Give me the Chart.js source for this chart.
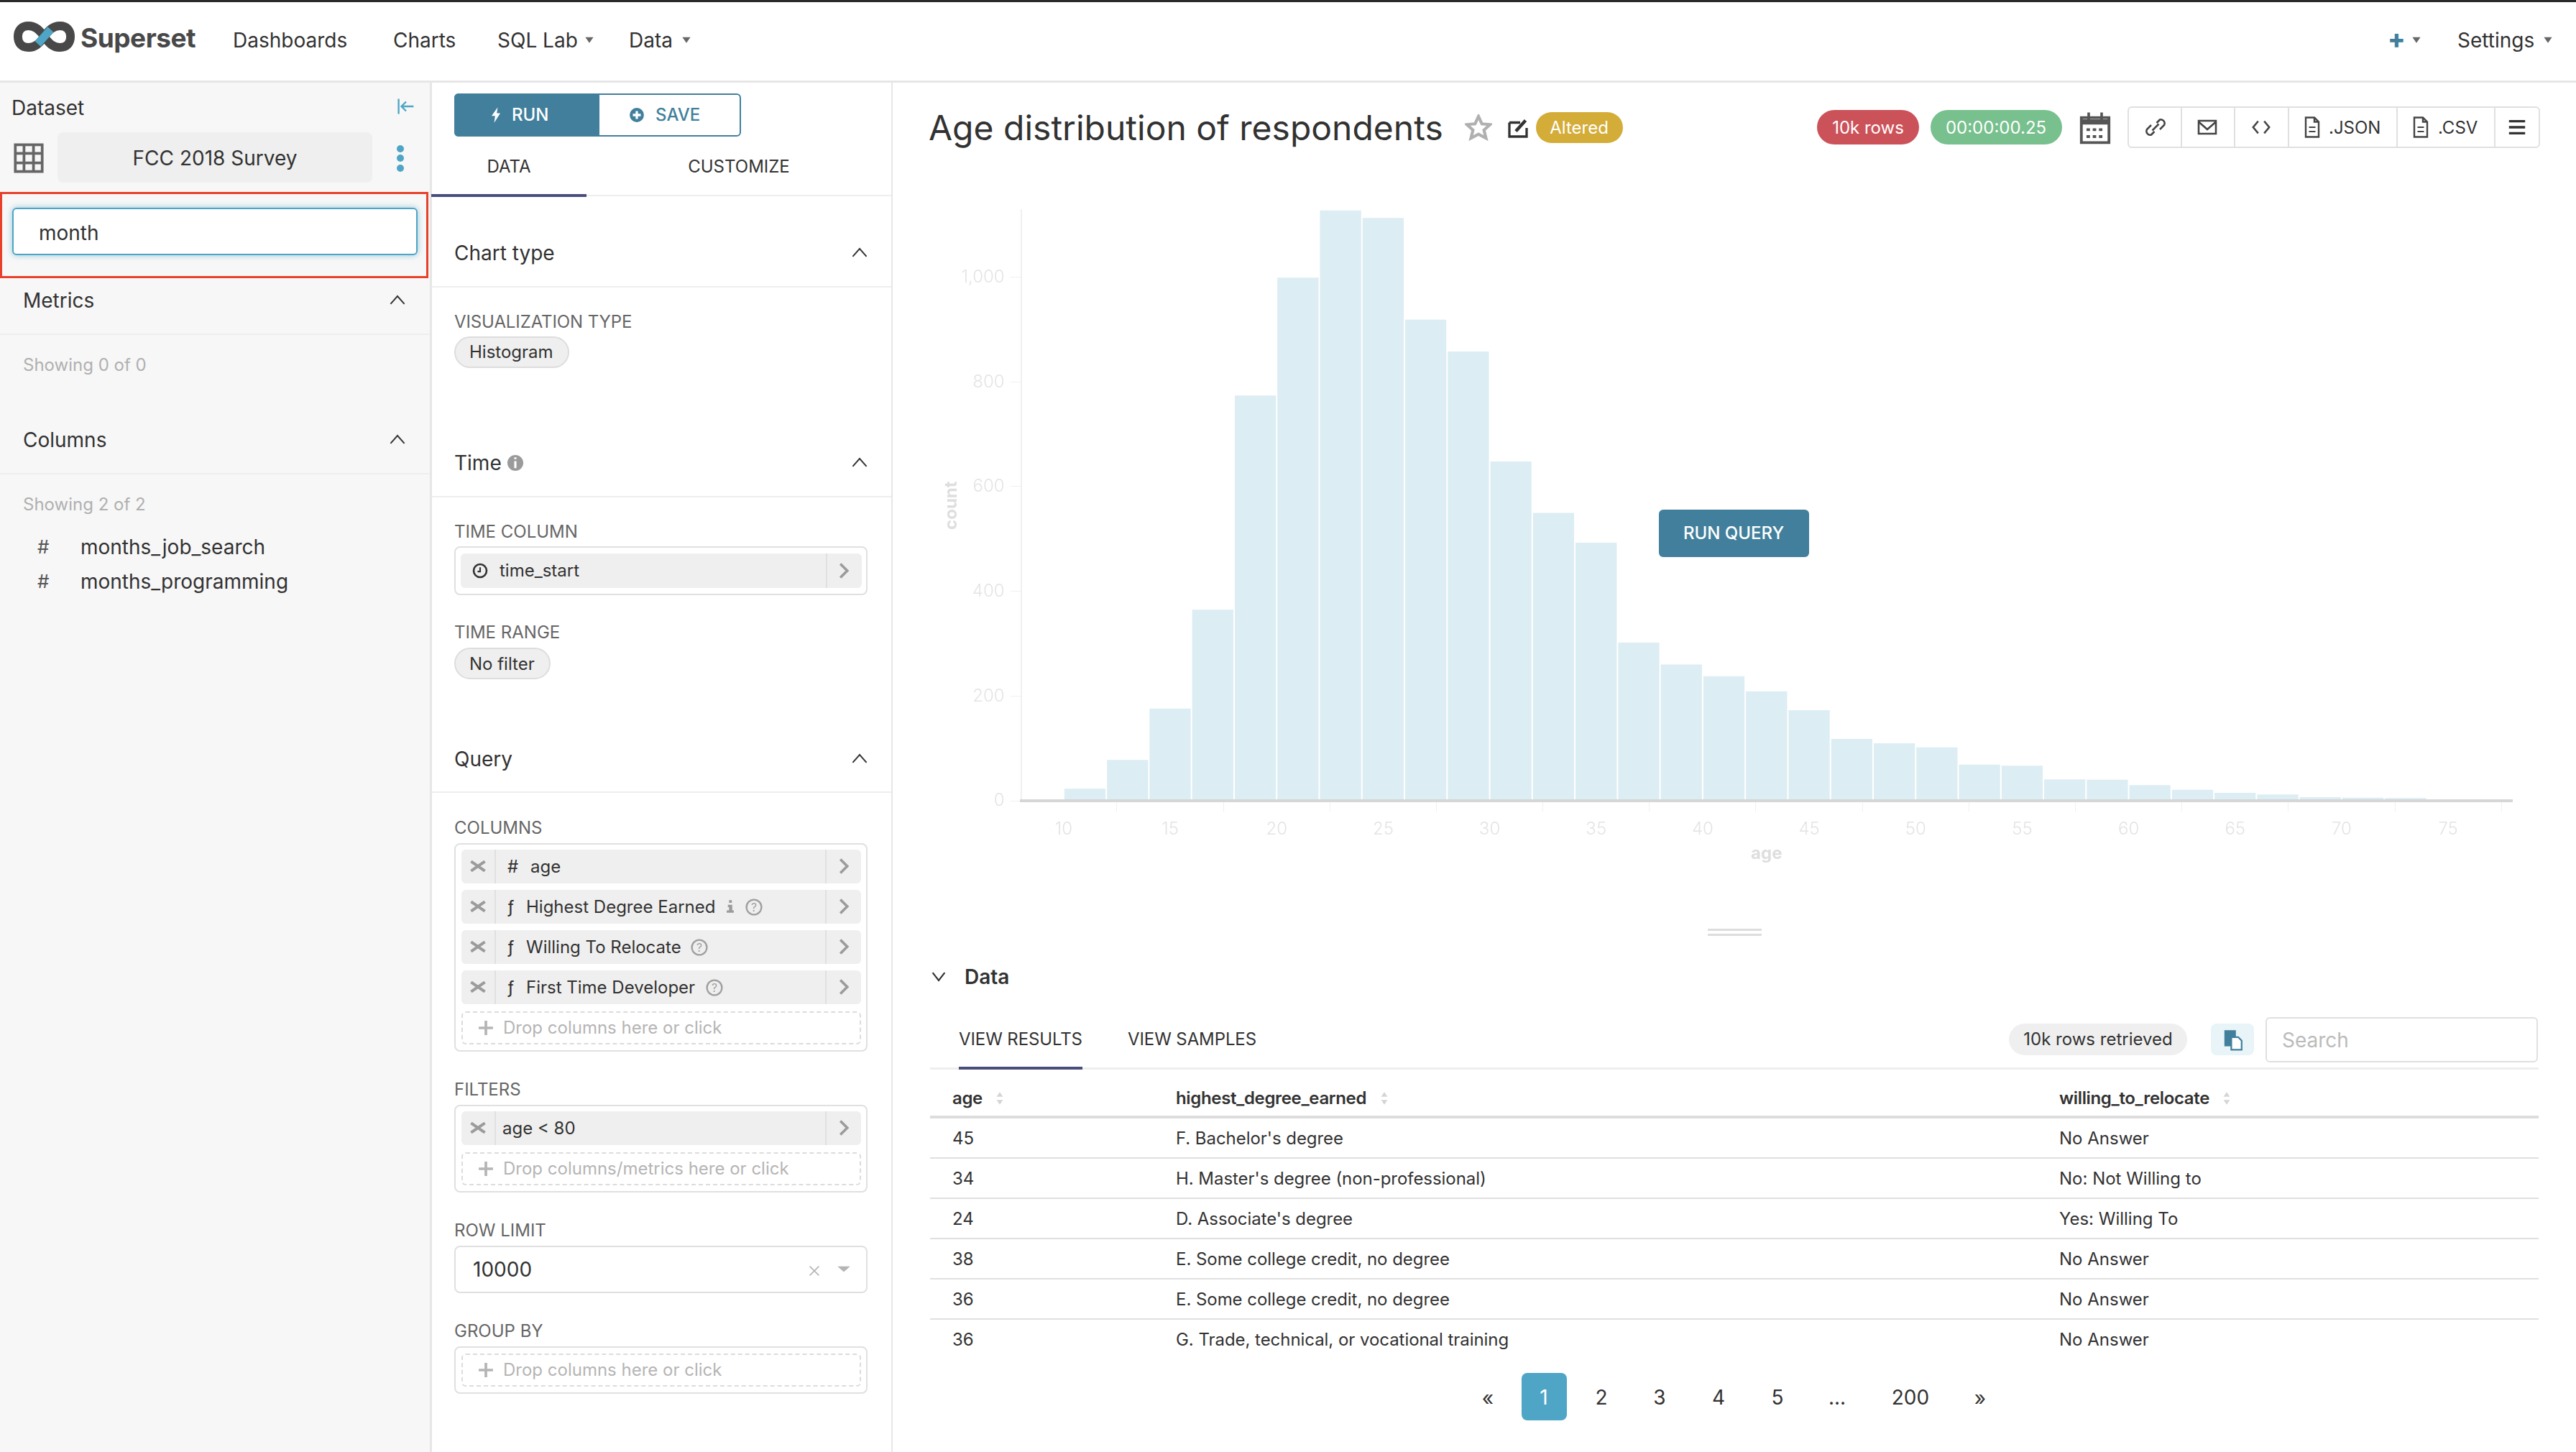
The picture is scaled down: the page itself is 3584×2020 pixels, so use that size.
<!DOCTYPE html>
<html>
<head>
<meta charset="utf-8">
<title>Age distribution of respondents</title>
<script src="https://cdn.jsdelivr.net/npm/chart.js@4"></script>
<style>
  html, body { margin: 0; padding: 0; background: #fff; }
  #page { position: relative; width: 3584px; height: 2020px; overflow: hidden; font-family: Inter, "Noto Sans", sans-serif; }
  #page div, #page svg { position: absolute; box-sizing: border-box; }
  .t { white-space: nowrap; line-height: 1; transform: translateY(-50%); }
  .c { transform: translate(-50%, -50%); }
  #histogram { position: absolute; left: 1309px; top: 270px; }
</style>
</head>
<body>
<div id="page"><canvas id="histogram" width="2196" height="932"></canvas></div>
<script>
// chart data
const binStarts = [8, 10, 12, 14, 16, 18, 20, 22, 24, 26, 28, 30, 32, 34, 36, 38, 40, 42, 44, 46, 48, 50, 52, 54, 56, 58, 60, 62, 64, 66, 68, 70, 72, 74, 76];
const counts = [0, 23, 78, 176, 365, 774, 999, 1128, 1113, 919, 858, 648, 550, 493, 302, 260, 238, 209, 173, 118, 110, 102, 69, 67, 41, 40, 30, 21, 15, 12, 7, 6, 5, 1, 0];
const xTicks = [10, 15, 20, 25, 30, 35, 40, 45, 50, 55, 60, 65, 70, 75];
const yTicks = [0, 200, 400, 600, 800, 1000];

// table contents
const ages = ['45', '34', '24', '38', '36', '36'];
const degrees = ["F. Bachelor's degree", "H. Master's degree (non-professional)", "D. Associate's degree", 'E. Some college credit, no degree', 'E. Some college credit, no degree', 'G. Trade, technical, or vocational training'];
const relocate = ['No Answer', 'No: Not Willing to', 'Yes: Willing To', 'No Answer', 'No Answer', 'No Answer'];

const page = document.getElementById('page');
const BLUE = '#417f9c', LIGHT = '#4ea5c5', INK = '#323232';

function box(x, y, w, h, css) {
  const d = document.createElement('div');
  d.style.cssText = `left:${x}px;top:${y}px;width:${w}px;height:${h}px;${css}`;
  page.appendChild(d);
}
function txt(x, y, s, size, color, css) {
  const d = document.createElement('div');
  d.className = 't';
  d.textContent = s;
  d.style.cssText = `left:${x}px;top:${y}px;font-size:${size}px;color:${color};${css || ''}`;
  page.appendChild(d);
}
function mid(x, y, s, size, color, css) {
  const d = document.createElement('div');
  d.className = 't c';
  d.textContent = s;
  d.style.cssText = `left:${x}px;top:${y}px;font-size:${size}px;color:${color};${css || ''}`;
  page.appendChild(d);
}
// centred svg icon, viewBox is -10..10
function icon(x, y, size, inner) {
  const wrap = document.createElement('div');
  wrap.style.cssText = `left:${x - size / 2}px;top:${y - size / 2}px;width:${size}px;height:${size}px;`;
  wrap.innerHTML = `<svg width="${size}" height="${size}" viewBox="-10 -10 20 20" style="left:0;top:0">${inner}</svg>`;
  page.appendChild(wrap);
}
const chevUp = '<polyline points="-8,4 0,-5 8,4" fill="none" stroke="#323232" stroke-width="1.6"/>';
const chevRight = '<polyline points="-4,-8 4,0 -4,8" fill="none" stroke="#9b9b9b" stroke-width="3"/>';
const cross = '<path d="M-8,-5.5 L8,5.5 M8,-5.5 L-8,5.5" stroke="#9b9b9b" stroke-width="3.4"/>';
const plus = '<path d="M-9,0 H9 M0,-9 V9" stroke="#b5b5b5" stroke-width="3.4"/>';
const caret = '<path d="M-7,-4 H7 L0,6 Z" fill="#666"/>';
const help = '<circle r="8" fill="none" stroke="#a0a0a0" stroke-width="1.8"/><text y="4.5" text-anchor="middle" font-size="12" fill="#a0a0a0" font-family="Inter">?</text>';

// navbar
box(0, 0, 3584, 3, 'background:#2a2a2a');
box(0, 112, 3584, 3, 'background:#e6e6e6');
const logo = document.createElement('div');
logo.style.cssText = 'left:18px;top:28px;width:87px;height:46px';
logo.innerHTML = '<svg width="87" height="46" viewBox="0 0 88 46" preserveAspectRatio="none" style="left:0;top:0"><path d="M44 23 C37 13 31 8 22 8 C12 8 7 14 7 23 C7 32 12 38 22 38 C31 38 37 33 44 23 C51 13 57 8 66 8 C76 8 81 14 81 23 C81 32 76 38 66 38 C57 38 51 33 44 23" fill="none" stroke="#484848" stroke-width="12"/><path d="M35 33 L44 23 L53 13" fill="none" stroke="#4ea5c5" stroke-width="11"/></svg>';
page.appendChild(logo);
txt(112, 52, 'Superset', 37, '#484848', 'font-weight:700;letter-spacing:-0.5px');
txt(324, 56, 'Dashboards', 28, INK);
txt(547, 56, 'Charts', 28, INK);
txt(692, 56, 'SQL Lab', 28, INK);
icon(820, 55, 16, caret);
txt(875, 56, 'Data', 28, INK);
icon(955, 55, 16, caret);
txt(3322, 54, '+', 36, BLUE, 'font-weight:800');
icon(3362, 55, 16, caret);
txt(3419, 56, 'Settings', 28, INK);
icon(3545, 55, 16, caret);

// left panel
box(0, 115, 598, 1905, 'background:#f7f7f7');
box(598, 115, 3, 1905, 'background:#e6e6e6');
txt(16, 150, 'Dataset', 28, INK);
icon(565, 148, 26, '<path d="M-8,-8 V8 M8,0 H-4 M0,-5 L-5,0 L0,5" fill="none" stroke="#4ea5c5" stroke-width="1.8"/>');
icon(40, 220, 44, '<path d="M-8.5,-8.5 H8.5 V8.5 H-8.5 Z M-8.5,-3 H8.5 M-8.5,3 H8.5 M-3,-8.5 V8.5 M3,-8.5 V8.5" fill="none" stroke="#666" stroke-width="1.7"/>');
box(80, 184, 438, 70, 'background:#efefef;border-radius:8px');
mid(299, 220, 'FCC 2018 Survey', 28, INK);
box(552, 202, 10, 10, 'background:#4ea5c5;border-radius:50%');
box(552, 215, 10, 10, 'background:#4ea5c5;border-radius:50%');
box(552, 229, 10, 10, 'background:#4ea5c5;border-radius:50%');
box(0, 267, 596, 120, 'border:3px solid #e8412a;background:#f7f7f7');
box(17, 289, 564, 66, 'background:#fff;border:2px solid #4ea5c5;border-radius:6px;box-shadow:0 0 8px rgba(78,165,197,.6)');
txt(54, 324, 'month', 28, INK);
txt(32, 418, 'Metrics', 28, INK);
icon(553, 418, 24, chevUp);
box(0, 464, 598, 2, 'background:#eeeeee');
txt(32, 508, 'Showing 0 of 0', 24, '#b0b0b0');
txt(32, 612, 'Columns', 28, INK);
icon(553, 612, 24, chevUp);
box(0, 658, 598, 2, 'background:#eeeeee');
txt(32, 702, 'Showing 2 of 2', 24, '#b0b0b0');
txt(52, 761, '#', 26, '#555');
txt(112, 761, 'months_job_search', 28, INK);
txt(52, 809, '#', 26, '#555');
txt(112, 809, 'months_programming', 28, INK);

// middle panel
box(632, 130, 399, 60, `border:2px solid ${BLUE};border-radius:6px;background:#fff`);
box(632, 130, 202, 60, `background:${BLUE};border-radius:6px 0 0 6px`);
icon(690, 160, 24, '<path d="M2,-9 L-5,1 H-1 L-2,9 L5,-2 H1 Z" fill="#fff"/>');
txt(712, 160, 'RUN', 24, '#fff', 'font-weight:500');
icon(886, 160, 22, `<circle r="9" fill="${BLUE}"/><path d="M-5,0 H5 M0,-5 V5" stroke="#fff" stroke-width="3"/>`);
txt(912, 160, 'SAVE', 24, BLUE, 'font-weight:500');
mid(708, 232, 'DATA', 24, INK);
mid(1028, 232, 'CUSTOMIZE', 24, INK);
box(600, 271, 640, 2, 'background:#eeeeee');
box(600, 270, 216, 4, 'background:#484e7c');

txt(632, 352, 'Chart type', 28, INK);
icon(1196, 352, 24, chevUp);
box(600, 398, 640, 2, 'background:#eeeeee');
txt(632, 448, 'VISUALIZATION TYPE', 24, '#666', 'letter-spacing:-0.1px');
box(632, 468, 160, 44, 'background:#efefef;border:2px solid #dddddd;border-radius:22px');
txt(653, 490, 'Histogram', 24, INK);

txt(632, 644, 'Time', 28, INK);
icon(717, 644, 26, '<circle r="8.5" fill="#9b9b9b"/><path d="M0,-2 V5.5 M0,-6 V-4" stroke="#fff" stroke-width="2.4"/>');
icon(1196, 644, 24, chevUp);
box(600, 690, 640, 2, 'background:#eeeeee');
txt(632, 740, 'TIME COLUMN', 24, '#666');
box(632, 760, 575, 68, 'border:2px solid #e0e0e0;border-radius:8px');
box(641, 770, 558, 48, 'background:#efefef;border-radius:6px');
box(1149, 770, 2, 48, 'background:#e0e0e0');
icon(668, 794, 24, '<circle r="7.5" fill="none" stroke="#323232" stroke-width="2.2"/><path d="M0,-4 V1 H-3" fill="none" stroke="#323232" stroke-width="1.8"/>');
txt(695, 794, 'time_start', 24, INK);
icon(1174, 794, 24, chevRight);
txt(632, 880, 'TIME RANGE', 24, '#666');
box(632, 901, 134, 44, 'background:#efefef;border:2px solid #dddddd;border-radius:22px');
txt(653, 924, 'No filter', 24, INK);

txt(632, 1056, 'Query', 28, INK);
icon(1196, 1056, 24, chevUp);
box(600, 1101, 640, 2, 'background:#eeeeee');

function pillRow(y, symbol, symbolX, label, labelX) {
  box(642, y, 556, 47, 'background:#efefef;border-radius:6px');
  box(688, y, 2, 47, 'background:#e0e0e0');
  box(1148, y, 2, 47, 'background:#e0e0e0');
  icon(665, y + 23, 24, cross);
  if (symbol) txt(symbolX, y + 24, symbol, 24, INK);
  txt(labelX, y + 24, label, 24, INK);
  icon(1174, y + 23, 24, chevRight);
}
function dropRow(y, label) {
  box(642, y, 556, 46, 'border:2px dashed #dcdcdc;border-radius:6px');
  icon(676, y + 23, 22, plus);
  txt(700, y + 23, label, 24, '#b5b5b5');
}
txt(632, 1152, 'COLUMNS', 24, '#666');
box(632, 1173, 575, 290, 'border:2px solid #e0e0e0;border-radius:8px');
pillRow(1182, '#', 706, 'age', 738);
pillRow(1238, 'ƒ', 706, 'Highest Degree Earned', 732);
pillRow(1294, 'ƒ', 706, 'Willing To Relocate', 732);
pillRow(1350, 'ƒ', 706, 'First Time Developer', 732);
icon(1016, 1261, 22, '<path d="M-1.5,-8 H2 V-4.5 H-1.5 Z M-3,-2 H2.5 V5 H4.5 V8 H-4.5 V5 H-1.5 V1 H-3 Z" fill="#9b9b9b"/>');
icon(1049, 1262, 26, help);
icon(973, 1318, 26, help);
icon(994, 1374, 26, help);
dropRow(1407, 'Drop columns here or click');

txt(632, 1516, 'FILTERS', 24, '#666');
box(632, 1537, 575, 122, 'border:2px solid #e0e0e0;border-radius:8px');
pillRow(1546, '', 0, 'age < 80', 699);
dropRow(1603, 'Drop columns/metrics here or click');

txt(632, 1712, 'ROW LIMIT', 24, '#666');
box(632, 1733, 575, 66, 'border:2px solid #e0e0e0;border-radius:8px');
txt(658, 1766, '10000', 28, INK);
icon(1133, 1768, 16, '<path d="M-8,-8 L8,8 M8,-8 L-8,8" stroke="#b5b5b5" stroke-width="2"/>');
icon(1174, 1765, 22, '<path d="M-8,-3 H8 L0,4 Z" fill="#b5b5b5"/>');
txt(632, 1852, 'GROUP BY', 24, '#666');
box(632, 1873, 575, 66, 'border:2px solid #e0e0e0;border-radius:8px');
dropRow(1883, 'Drop columns here or click');

// chart header
box(1240, 115, 2, 1905, 'background:#e6e6e6');
txt(1292, 178, 'Age distribution of respondents', 48, INK);
icon(2057, 178, 38, '<path d="M0,-8.5 L2.5,-3 L8.5,-2.5 L4,1.5 L5.5,7.5 L0,4.5 L-5.5,7.5 L-4,1.5 L-8.5,-2.5 L-2.5,-3 Z" fill="none" stroke="#b0b0b0" stroke-width="2.2"/>');
icon(2112, 178, 30, '<path d="M-8,-5 H2 M8,0 V8 H-8 V-5" fill="none" stroke="#323232" stroke-width="2.2"/><path d="M-2,3 L7,-7" stroke="#323232" stroke-width="3"/>');
box(2137, 156, 121, 43, 'background:#d4ac38;border-radius:22px');
mid(2197, 178, 'Altered', 24, '#fff');
box(2528, 153, 142, 48, 'background:#cc525a;border-radius:24px');
mid(2599, 178, '10k rows', 24, '#fff');
box(2686, 153, 183, 48, 'background:#78c08e;border-radius:24px');
mid(2777, 178, '00:00:00.25', 24, '#fff');
icon(2915, 178, 48, '<path d="M-8,-6 H8 V8.5 H-8 Z" fill="none" stroke="#555" stroke-width="1.6"/><path d="M-8,-5 H8 V-2 H-8 Z M-4.5,-9 H-3 V-5 H-4.5 Z M3,-9 H4.5 V-5 H3 Z" fill="#555"/><path d="M-5,1 H5 M-5,5 H5" stroke="#555" stroke-width="1.6" stroke-dasharray="2 1.6"/>');
box(2960, 148, 574, 58, 'border:2px solid #e0e0e0;border-radius:6px');
[3034, 3108, 3183, 3334, 3470].forEach(x => box(x, 150, 2, 54, 'background:#e0e0e0'));
icon(2999, 177, 30, '<path d="M-1,4 L-4,7 A3.5,3.5 0 0 1 -8,2 L-4,-2 M1,-4 L4,-7 A3.5,3.5 0 0 1 8,-2 L4,2 M-3,3 L3,-3" fill="none" stroke="#444" stroke-width="1.7"/>');
icon(3071, 177, 30, '<path d="M-8,-6 H8 V6 H-8 Z M-8,-5 L0,2 L8,-5" fill="none" stroke="#444" stroke-width="1.7"/>');
icon(3146, 177, 28, '<path d="M-3,-6 L-8,0 L-3,6 M3,-6 L8,0 L3,6" fill="none" stroke="#444" stroke-width="1.8"/>');
const doc = '<path d="M-6,-9 H2 L6,-5 V9 H-6 Z M2,-9 V-5 H6" fill="none" stroke="#444" stroke-width="1.6"/><path d="M-3,0 H3 M-3,4 H3" stroke="#444" stroke-width="1.4"/>';
icon(3217, 177, 30, doc);
txt(3240, 178, '.JSON', 24, INK);
icon(3368, 177, 30, doc);
txt(3392, 178, '.CSV', 24, INK);
icon(3502, 177, 28, '<path d="M-8,-6 H8 M-8,0 H8 M-8,6 H8" stroke="#323232" stroke-width="2.4"/>');

// overlay on the stale chart
box(2308, 709, 209, 66, `background:${BLUE};border-radius:6px;z-index:5`);
mid(2412, 742, 'RUN QUERY', 24, '#fff', 'z-index:6;font-weight:500');

// data section
box(2376, 1292, 75, 3, 'background:#dddddd');
box(2376, 1299, 75, 3, 'background:#dddddd');
icon(1306, 1358, 24, '<polyline points="-7,-4 0,5 7,-4" fill="none" stroke="#323232" stroke-width="1.8"/>');
txt(1342, 1359, 'Data', 28, INK, 'font-weight:600');
txt(1334, 1446, 'VIEW RESULTS', 24, INK, 'letter-spacing:-0.1px');
txt(1569, 1446, 'VIEW SAMPLES', 24, INK, 'letter-spacing:-0.1px');
box(1294, 1485, 2238, 3, 'background:#eeeeee');
box(1334, 1484, 172, 4, 'background:#484e7c');
box(2795, 1424, 248, 44, 'background:#efefef;border-radius:22px');
mid(2919, 1446, '10k rows retrieved', 24, INK);
box(3076, 1424, 60, 44, 'background:#e8f4f8;border-radius:8px');
icon(3106, 1446, 32, `<path d="M-7,-8 H3 V6 H-7 Z" fill="${BLUE}"/><path d="M-1,-2 H5 L8,1 V9 H-1 Z" fill="#fff" stroke="${BLUE}" stroke-width="1.4"/>`);
box(3152, 1415, 379, 63, 'border:2px solid #e0e0e0;border-radius:6px');
txt(3175, 1447, 'Search', 28, '#bbbbbb');

const sortIcon = '<path d="M-4,-2 L0,-8 L4,-2 Z M-4,2 L0,8 L4,2 Z" fill="#d5d5d5"/>';
const headStyle = 'font-weight:600;letter-spacing:-0.35px';
txt(1325, 1528, 'age', 24, INK, headStyle);
icon(1391, 1528, 22, sortIcon);
txt(1636, 1528, 'highest_degree_earned', 24, INK, headStyle);
icon(1926, 1528, 22, sortIcon);
txt(2865, 1528, 'willing_to_relocate', 24, INK, headStyle);
icon(3098, 1528, 22, sortIcon);
box(1294, 1552, 2238, 4, 'background:#dddddd');
const rowY = [1584, 1640, 1696, 1752, 1808, 1864];
rowY.forEach((y, i) => {
  txt(1325, y, ages[i], 24, INK);
  txt(1636, y, degrees[i], 24, INK, 'letter-spacing:-0.05px');
  txt(2865, y, relocate[i], 24, INK);
  if (i < rowY.length - 1) box(1294, y + 26, 2238, 2, 'background:#e0e0e0');
});

// pagination
box(2117, 1910, 63, 66, 'background:#4ea5c5;border-radius:8px');
mid(2070, 1945, '«', 28, INK);
mid(2148, 1944, '1', 28, '#fff');
mid(2228, 1944, '2', 28, INK);
mid(2309, 1944, '3', 28, INK);
mid(2391, 1944, '4', 28, INK);
mid(2473, 1944, '5', 28, INK);
mid(2556, 1944, '...', 28, INK);
mid(2658, 1944, '200', 28, INK);
mid(2755, 1945, '»', 28, INK);

// the histogram, washed out like the stale preview
const axisFont = { family: 'Inter', size: 24, weight: '300' };
const titleFont = { family: 'Inter', size: 24, weight: '700' };

new Chart(document.getElementById('histogram').getContext('2d'), {
  type: 'bar',
  data: {
    datasets: [{
      data: binStarts.map((start, i) => ({ x: start + 1, y: counts[i] })),
      backgroundColor: '#dcedf3',
      borderWidth: 0,
      barPercentage: 0.965,
      categoryPercentage: 1,
    }],
  },
  options: {
    responsive: false,
    animation: false,
    layout: { padding: { right: 10 } },
    plugins: { legend: { display: false }, tooltip: { enabled: false } },
    scales: {
      x: {
        type: 'linear',
        offset: false,
        min: 8,
        max: 78,
        afterBuildTicks: axis => { axis.ticks = xTicks.map(value => ({ value })); },
        afterFit: axis => { axis.height = 88; },
        grid: { drawOnChartArea: false, tickColor: '#f0f0f0', tickLength: 15 },
        border: { color: '#d6d6d6', width: 4, z: 1 },
        ticks: { color: '#e4e4e4', font: axisFont, padding: 10, maxRotation: 0 },
        title: { display: true, text: 'age', color: '#dedede', font: titleFont, padding: 0 },
      },
      y: {
        min: 0,
        max: 1128,
        afterBuildTicks: axis => { axis.ticks = yTicks.map(value => ({ value })); },
        afterFit: axis => { axis.width = 111.6; },
        grid: { drawOnChartArea: false, tickColor: '#f0f0f0', tickLength: 15 },
        border: { color: '#f0f0f0', width: 2 },
        ticks: { color: '#e4e4e4', font: axisFont, padding: 8 },
        title: { display: true, text: 'count', color: '#dedede', font: titleFont, padding: 0 },
      },
    },
  },
});
</script>
</body>
</html>
